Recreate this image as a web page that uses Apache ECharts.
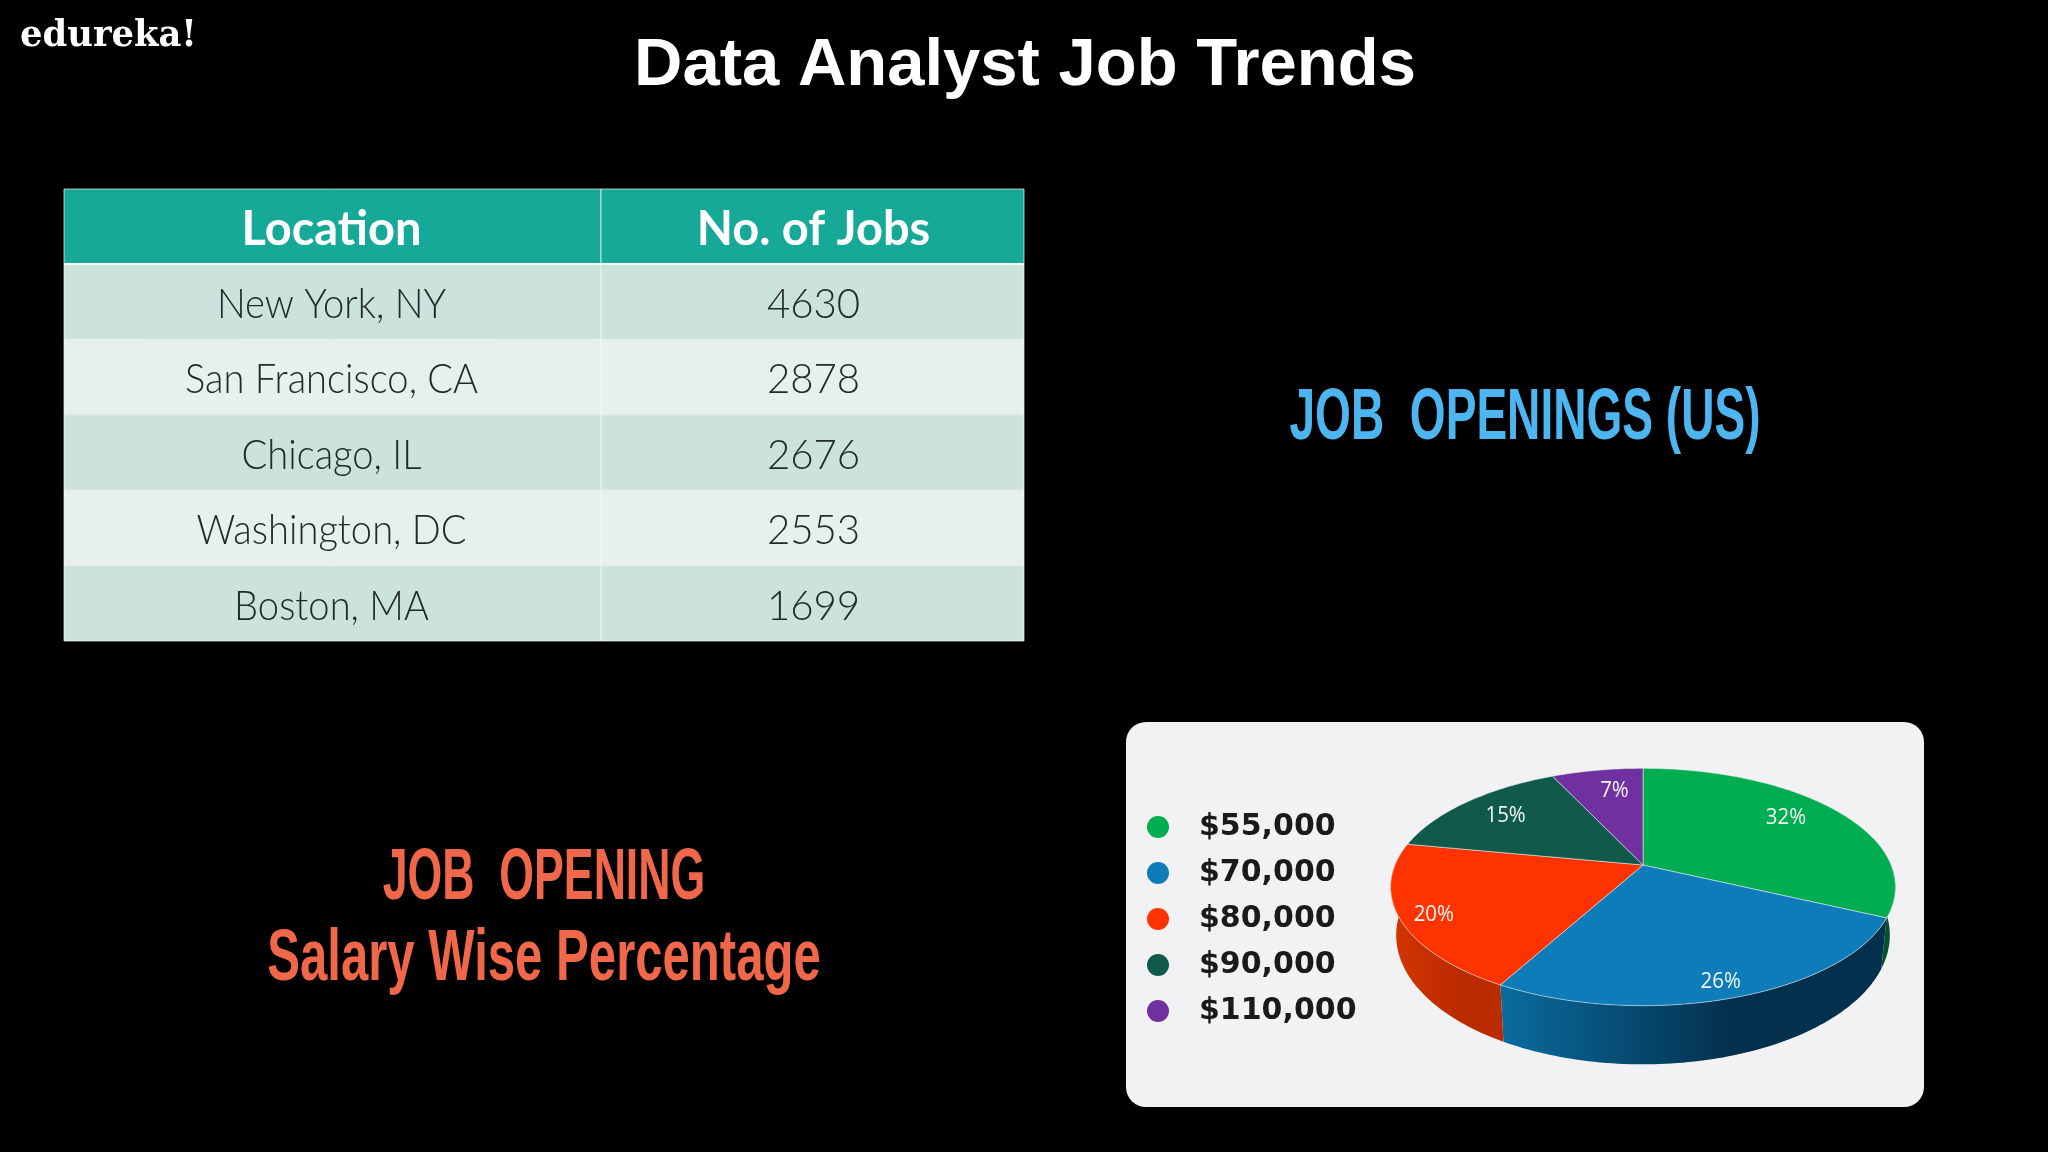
<!DOCTYPE html>
<html>
<head>
<meta charset="utf-8">
<title>Data Analyst Job Trends</title>
<script src="https://cdn.jsdelivr.net/npm/echarts@6/dist/echarts.min.js"></script>
<style>
  html, body { margin: 0; padding: 0; background: #000; }
  #main { width: 2048px; height: 1152px; }
</style>
</head>
<body>
<div id="main"></div>
<script>
var locations = ['New York, NY', 'San Francisco, CA', 'Chicago, IL', 'Washington, DC', 'Boston, MA'];
var jobCounts = [4630, 2878, 2676, 2553, 1699];
var tableHeaders = ['Location', 'No. of Jobs'];
var salaryBands = ['$55,000', '$70,000', '$80,000', '$90,000', '$110,000'];
var salaryShares = [32, 26, 20, 15, 7];

var sliceColors = ['#00ad50', '#0e7cb8', '#ff3300', '#0f5a4b', '#7030a0'];
var wallStops = [
  ['#0a6a38', '#06502a'],
  ['#0a6c9f', '#03304d'],
  ['#d43500', '#ba2b00'],
  ['#0c4a3e', '#0c4a3e'],
  ['#5a2680', '#5a2680']
];
var labelRadius = [0.76, 0.86, 0.88, 0.78, 0.77];
var labelNudge = [[-5, -4], [0, 6], [3, 4], [3, 1], [8, 1]];

var chartDom = document.getElementById('main');
var myChart = echarts.init(chartDom);

// the picture's pie is a tilted disc, so the unit circle goes through a small perspective
var pie = { x: 1643, y: 865, c: 248, a: 114.6, b: 0.1854, bottomX: 0.978, bottomY: 1.088, depth: 46.3 };
var total = salaryShares.reduce(function (s, v) { return s + v; }, 0);

function project(theta, r) {
  var u = r * Math.sin(theta);
  var v = -r * Math.cos(theta);
  var d = 1 - pie.b * v;
  return [pie.c * u / d, pie.a * v / d];
}
function topPoint(theta, r) {
  var p = project(theta, r);
  return [pie.x + p[0], pie.y + p[1]];
}
function bottomPoint(theta) {
  var p = project(theta, 1);
  return [pie.x + p[0] * pie.bottomX, pie.y + pie.depth + p[1] * pie.bottomY];
}
function arcAngles(from, to) {
  var out = [];
  var n = Math.max(2, Math.ceil((to - from) / 0.02));
  for (var i = 0; i <= n; i++) {
    out.push(from + (to - from) * i / n);
  }
  return out;
}

function sliceRenderer(index) {
  var before = salaryShares.slice(0, index).reduce(function (s, v) { return s + v; }, 0);
  return function (params, api) {
    var from = before / total * Math.PI * 2;
    var to = (before + api.value(0)) / total * Math.PI * 2;
    var children = [];

    // side wall, only the part facing the viewer
    var wallFrom = Math.max(from, Math.PI * 0.42);
    var wallTo = Math.min(to, Math.PI * 1.555);
    if (wallTo > wallFrom) {
      var angles = arcAngles(wallFrom, wallTo);
      var wall = angles.map(function (t) { return topPoint(t, 1); });
      angles.slice().reverse().forEach(function (t) { wall.push(bottomPoint(t)); });
      children.push({
        type: 'polygon',
        shape: { points: wall },
        style: {
          fill: new echarts.graphic.LinearGradient(0, 0, 1, 0, [
            { offset: 0, color: wallStops[index][0] },
            { offset: 0.6, color: wallStops[index][1] },
            { offset: 1, color: wallStops[index][1] }
          ])
        }
      });
    }

    var top = [[pie.x, pie.y]];
    arcAngles(from, to).forEach(function (t) { top.push(topPoint(t, 1)); });
    children.push({
      type: 'polygon',
      shape: { points: top },
      style: { fill: sliceColors[index], stroke: 'rgba(230,240,240,0.55)', lineWidth: 1 }
    });

    var lab = topPoint((from + to) / 2, labelRadius[index]);
    children.push({
      type: 'text',
      x: lab[0] + labelNudge[index][0],
      y: lab[1] + labelNudge[index][1],
      scaleX: 0.93,
      style: {
        text: api.value(0) + '%',
        fill: '#f4f8f6',
        font: '22px "Open Sans"',
        align: 'center',
        verticalAlign: 'middle'
      }
    });
    return { type: 'group', children: children };
  };
}

var table = { left: 64, right: 1024, split: 601, top: 189, headerBottom: 264, rowHeight: 75.4 };

function renderTableRow(params, api) {
  var row = api.value(0);
  var isHeader = row < 0;
  var y = isHeader ? table.top : table.headerBottom + row * table.rowHeight;
  var h = isHeader ? table.headerBottom - table.top : table.rowHeight;
  var fill = isHeader ? '#17a998' : (row % 2 === 0 ? '#cce2dd' : '#e6f1ef');
  var font = isHeader ? '700 47px Lato' : '300 41px Lato';
  var color = isHeader ? '#ffffff' : '#222b2a';
  var left = isHeader ? tableHeaders[0] : locations[row];
  var right = isHeader ? tableHeaders[1] : String(jobCounts[row]);
  var grid = 'rgba(244,250,248,0.7)';
  var children = [
    { type: 'rect', shape: { x: table.left, y: y, width: table.split - table.left, height: h },
      style: { fill: fill, stroke: grid, lineWidth: 1 } },
    { type: 'rect', shape: { x: table.split, y: y, width: table.right - table.split, height: h },
      style: { fill: fill, stroke: grid, lineWidth: 1 } },
    { type: 'text', x: (table.left + table.split) / 2 - 1, y: y + h / 2 + 3, scaleX: isHeader ? 1 : 0.93,
      style: { text: left, font: font, fill: color, align: 'center', verticalAlign: 'middle' } },
    { type: 'text', x: (table.split + table.right) / 2 + 1, y: y + h / 2 + 3, scaleX: isHeader ? 1 : 0.98,
      style: { text: right, font: font, fill: color, align: 'center', verticalAlign: 'middle' } }
  ];
  if (isHeader) {
    children.push({ type: 'rect', shape: { x: table.left, y: y + h - 1, width: table.right - table.left, height: 2 }, style: { fill: '#f4faf8' } });
  }
  return { type: 'group', children: children };
}

var series = [{
  type: 'custom',
  name: 'table',
  coordinateSystem: 'none',
  silent: true,
  animation: false,
  renderItem: renderTableRow,
  data: [0, 1, 2, 3, 4].map(function (r) { return [r]; }).concat([[-1]])
}];

salaryBands.forEach(function (band, i) {
  series.push({
    type: 'custom',
    name: band,
    coordinateSystem: 'none',
    silent: true,
    animation: false,
    itemStyle: { color: sliceColors[i] },
    renderItem: sliceRenderer(i),
    data: [[salaryShares[i]]]
  });
});

var headingFont = 'bold 72px "Liberation Sans"';

var option = {
  backgroundColor: '#000',
  animation: false,
  title: {
    text: 'Data Analyst Job Trends',
    left: 1020,
    top: 28,
    textAlign: 'center',
    textStyle: { color: '#fff', fontFamily: 'Liberation Sans', fontWeight: 'bold', fontSize: 67 }
  },
  legend: {
    data: salaryBands,
    orient: 'vertical',
    left: 1142,
    top: 807,
    itemWidth: 22,
    itemHeight: 22,
    itemGap: 16,
    icon: 'circle',
    selectedMode: false,
    textStyle: { color: '#1a1a1a', fontFamily: 'DejaVu Sans', fontWeight: 'bold', fontSize: 30, padding: [16, 0, 0, 25] }
  },
  graphic: [
    { type: 'rect', shape: { x: 1126, y: 722, width: 798, height: 385, r: 20 }, style: { fill: '#f2f2f4' }, silent: true },
    { type: 'text', x: 20, y: 18, scaleX: 0.955, style: { text: 'edureka!', fill: '#fff', font: 'bold 37px "DejaVu Serif"' } },
    { type: 'text', x: 1525, y: 419, scaleX: 0.64, style: { text: 'JOB  OPENINGS (US)', fill: '#4db5f0', font: headingFont, align: 'center', verticalAlign: 'middle' } },
    { type: 'text', x: 544, y: 879, scaleX: 0.62, style: { text: 'JOB  OPENING', fill: '#f0674a', font: headingFont, align: 'center', verticalAlign: 'middle' } },
    { type: 'text', x: 544, y: 960, scaleX: 0.682, style: { text: 'Salary Wise Percentage', fill: '#f0674a', font: headingFont, align: 'center', verticalAlign: 'middle' } }
  ],
  series: series
};

myChart.setOption(option);
</script>
</body>
</html>
